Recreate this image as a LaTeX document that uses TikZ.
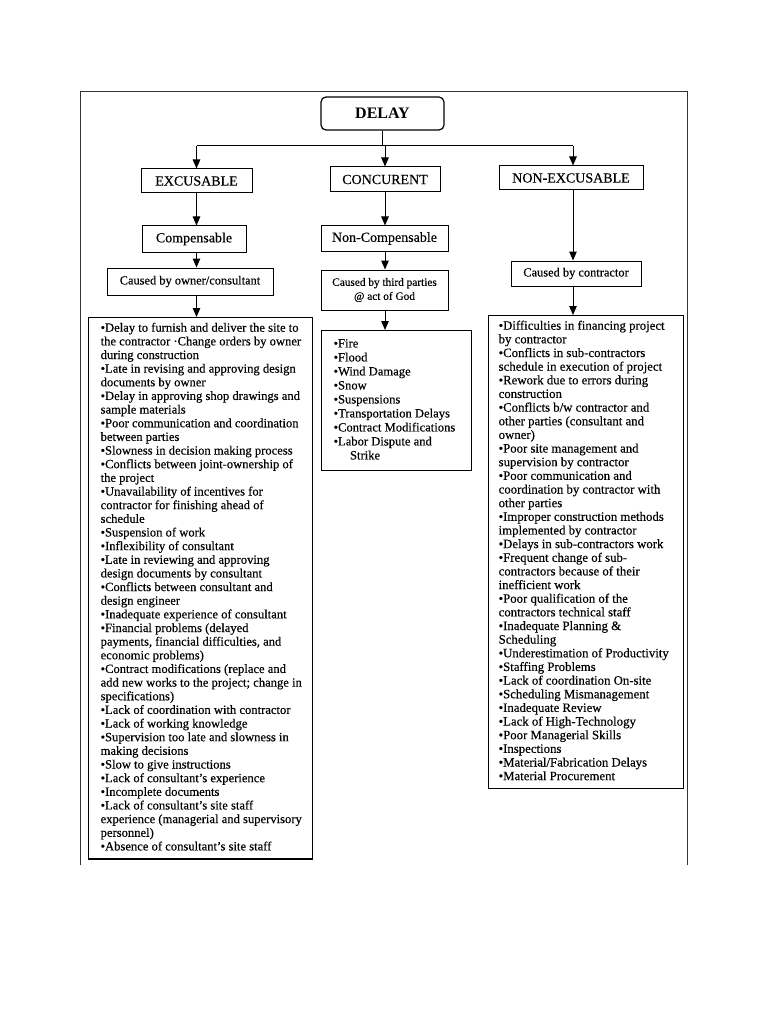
\documentclass[tikz,border=0pt]{standalone}
\usepackage{fontspec}
\setmainfont{Liberation Serif}[UprightFeatures={FakeBold=0.35}]
\usetikzlibrary{arrows.meta}
\begin{document}
\begin{tikzpicture}[x=1pt,y=-1pt,
  box/.style={draw, line width=1pt, inner sep=0pt, align=center},
  hdr/.style={box, font=\fontsize{14}{16}\selectfont},
  cause/.style={box, font=\fontsize{12.4}{14}\selectfont},
  lst/.style={draw, line width=1.3pt, anchor=north west, inner xsep=0pt, inner ysep=4.5pt, font=\fontsize{12.6}{13.65}\selectfont},
  arr/.style={-{Triangle[length=9pt,width=7.5pt]}, line width=1pt}]
\useasboundingbox (0,0) rectangle (768,1024);
% outer frame
\draw[line width=1pt, black!80] (80,865) -- (80,92) -- (687,92) -- (687,865);
% boxes
\node[box, rounded corners=5pt, minimum width=123pt, minimum height=33pt, line width=1.2pt, font=\bfseries\fontsize{16}{18}\selectfont] (delay) at (382.5,113.5) {DELAY};
\node[hdr, minimum width=111pt, minimum height=24pt] (exc) at (196.5,181) {EXCUSABLE};
\node[hdr, minimum width=110pt, minimum height=25pt] (conc) at (385,179.5) {CONCURENT};
\node[hdr, minimum width=144pt, minimum height=24pt] (nexc) at (571,178) {NON-EXCUSABLE};
\node[hdr, minimum width=104pt, minimum height=26pt] (comp) at (194,239) {Compensable};
\node[hdr, minimum width=127pt, minimum height=25pt] (ncomp) at (384.5,238.5) {Non-Compensable};
\node[cause, minimum width=166pt, minimum height=27pt] (own) at (190,281.5) {Caused by owner/consultant};
\node[cause, minimum width=127pt, minimum height=40pt, font=\fontsize{11.3}{14}\selectfont] (third) at (384.5,290) {Caused by third parties\\@ act of God};
\node[cause, minimum width=130pt, minimum height=25pt] (ctr) at (576,273.5) {Caused by contractor};
% lists
\node[lst] (llist) at (88,317) {\makebox[224pt][l]{\hspace*{12pt}\begin{tabular}{@{}l@{}}
•Delay to furnish and deliver the site to\\
the contractor ·Change orders by owner\\
during construction\\
•Late in revising and approving design\\
documents by owner\\
•Delay in approving shop drawings and\\
sample materials\\
•Poor communication and coordination\\
between parties\\
•Slowness in decision making process\\
•Conflicts between joint-ownership of\\
the project\\
•Unavailability of incentives for\\
contractor for finishing ahead of\\
schedule\\
•Suspension of work\\
•Inflexibility of consultant\\
•Late in reviewing and approving\\
design documents by consultant\\
•Conflicts between consultant and\\
design engineer\\
•Inadequate experience of consultant\\
•Financial problems (delayed\\
payments, financial difficulties, and\\
economic problems)\\
•Contract modifications (replace and\\
add new works to the project; change in\\
specifications)\\
•Lack of coordination with contractor\\
•Lack of working knowledge\\
•Supervision too late and slowness in\\
making decisions\\
•Slow to give instructions\\
•Lack of consultant’s experience\\
•Incomplete documents\\
•Lack of consultant’s site staff\\
experience (managerial and supervisory\\
personnel)\\
•Absence of consultant’s site staff
\end{tabular}}};
\node[lst, inner ysep=7pt, font=\fontsize{12.6}{14}\selectfont] (mlist) at (321,330) {\makebox[150pt][l]{\hspace*{12pt}\begin{tabular}{@{}l@{}}
•Fire\\
•Flood\\
•Wind Damage\\
•Snow\\
•Suspensions\\
•Transportation Delays\\
•Contract Modifications\\
•Labor Dispute and\\
\hspace*{1.3em}Strike
\end{tabular}}};
\node[lst, font=\fontsize{12.8}{13.65}\selectfont] (rlist) at (488,315) {\makebox[195pt][l]{\hspace*{10pt}\begin{tabular}{@{}l@{}}
•Difficulties in financing project\\
by contractor\\
•Conflicts in sub-contractors\\
schedule in execution of project\\
•Rework due to errors during\\
construction\\
•Conflicts b/w contractor and\\
other parties (consultant and\\
owner)\\
•Poor site management and\\
supervision by contractor\\
•Poor communication and\\
coordination by contractor with\\
other parties\\
•Improper construction methods\\
implemented by contractor\\
•Delays in sub-contractors work\\
•Frequent change of sub-\\
contractors because of their\\
inefficient work\\
•Poor qualification of the\\
contractors technical staff\\
•Inadequate Planning \&\\
Scheduling\\
•Underestimation of Productivity\\
•Staffing Problems\\
•Lack of coordination On-site\\
•Scheduling Mismanagement\\
•Inadequate Review\\
•Lack of High-Technology\\
•Poor Managerial Skills\\
•Inspections\\
•Material/Fabrication Delays\\
•Material Procurement
\end{tabular}}};
% connectors
\coordinate (jl) at (196.5,146);
\coordinate (jr) at (573,146);
\draw[line width=1pt] (delay.south) -- (delay.south |- jl);
\draw[line width=1pt] (jl) -- (jr);
\draw[arr] (jl) -- (exc.north);
\draw[arr] (conc.north |- jl) -- (conc.north);
\draw[arr] (jr) -- (jr |- nexc.north);
\draw[arr] (exc.south) -- (exc.south |- comp.north);
\draw[arr] (comp.south -| exc.south) -- (exc.south |- own.north);
\draw[arr] (own.south -| exc.south) -- (exc.south |- llist.north);
\draw[arr] (conc.south) -- (conc.south |- ncomp.north);
\draw[arr] (ncomp.south -| conc.south) -- (conc.south |- third.north);
\draw[arr] (third.south -| conc.south) -- (conc.south |- mlist.north);
\draw[arr] (jr |- nexc.south) -- (jr |- ctr.north);
\draw[arr] (jr |- ctr.south) -- (jr |- rlist.north);
\end{tikzpicture}
\end{document}
